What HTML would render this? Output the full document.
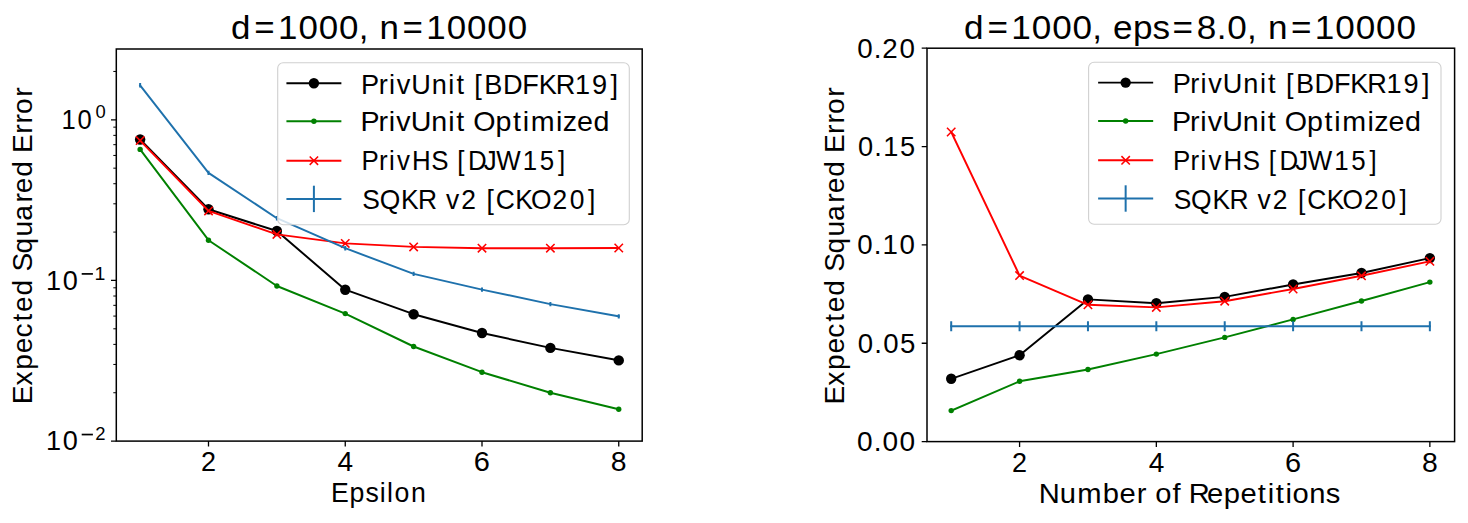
<!DOCTYPE html>
<html><head><meta charset="utf-8"><style>
html,body{margin:0;padding:0;background:#fff;width:1468px;height:523px;overflow:hidden}
svg{display:block}
text{font-family:"Liberation Sans",sans-serif;font-kerning:none}
</style></head><body>
<svg width="1468" height="523" viewBox="0 0 1468 523">
<rect width="1468" height="523" fill="#fff"/>
<polyline points="140.13,139.50 208.50,209.30 276.88,231.00 345.25,289.70 413.63,314.20 482.00,333.00 550.38,347.90 618.75,360.40" fill="none" stroke="#000000" stroke-width="1.95" stroke-linejoin="round" stroke-linecap="square"/><circle cx="140.13" cy="139.50" r="5.2" fill="#000000"/><circle cx="208.50" cy="209.30" r="5.2" fill="#000000"/><circle cx="276.88" cy="231.00" r="5.2" fill="#000000"/><circle cx="345.25" cy="289.70" r="5.2" fill="#000000"/><circle cx="413.63" cy="314.20" r="5.2" fill="#000000"/><circle cx="482.00" cy="333.00" r="5.2" fill="#000000"/><circle cx="550.38" cy="347.90" r="5.2" fill="#000000"/><circle cx="618.75" cy="360.40" r="5.2" fill="#000000"/><polyline points="140.13,149.40 208.50,240.20 276.88,286.00 345.25,313.60 413.63,346.50 482.00,372.20 550.38,392.80 618.75,409.20" fill="none" stroke="#008000" stroke-width="1.95" stroke-linejoin="round" stroke-linecap="square"/><circle cx="140.13" cy="149.40" r="2.7" fill="#008000"/><circle cx="208.50" cy="240.20" r="2.7" fill="#008000"/><circle cx="276.88" cy="286.00" r="2.7" fill="#008000"/><circle cx="345.25" cy="313.60" r="2.7" fill="#008000"/><circle cx="413.63" cy="346.50" r="2.7" fill="#008000"/><circle cx="482.00" cy="372.20" r="2.7" fill="#008000"/><circle cx="550.38" cy="392.80" r="2.7" fill="#008000"/><circle cx="618.75" cy="409.20" r="2.7" fill="#008000"/><polyline points="140.13,140.60 208.50,210.90 276.88,234.40 345.25,243.40 413.63,246.90 482.00,248.20 550.38,248.20 618.75,248.00" fill="none" stroke="#ff0000" stroke-width="1.95" stroke-linejoin="round" stroke-linecap="square"/><path d="M135.93,136.40L144.33,144.80M135.93,144.80L144.33,136.40M204.31,206.70L212.70,215.10M204.31,215.10L212.70,206.70M272.68,230.20L281.08,238.60M272.68,238.60L281.08,230.20M341.06,239.20L349.45,247.60M341.06,247.60L349.45,239.20M409.43,242.70L417.83,251.10M409.43,251.10L417.83,242.70M477.81,244.00L486.20,252.40M477.81,252.40L486.20,244.00M546.18,244.00L554.58,252.40M546.18,252.40L554.58,244.00M614.55,243.80L622.96,252.20M614.55,252.20L622.96,243.80" stroke="#ff0000" stroke-width="1.55" fill="none"/><polyline points="140.13,85.30 208.50,172.90 276.88,218.20 345.25,248.20 413.63,273.90 482.00,289.60 550.38,304.10 618.75,316.40" fill="none" stroke="#1e71ac" stroke-width="1.95" stroke-linejoin="round" stroke-linecap="square"/><path d="M140.13,83.10L140.13,87.50M208.50,170.70L208.50,175.10M276.88,216.00L276.88,220.40M345.25,246.00L345.25,250.40M413.63,271.70L413.63,276.10M482.00,287.40L482.00,291.80M550.38,301.90L550.38,306.30M618.75,314.20L618.75,318.60" stroke="#1e71ac" stroke-width="2.0" fill="none"/><rect x="277.7" y="62.7" width="351.59999999999997" height="162.10000000000002" rx="5.5" ry="5.5" fill="#ffffff" fill-opacity="0.8" stroke="#d0d0d0" stroke-width="1.1"/><polyline points="287.40,83.20 340.40,83.20" fill="none" stroke="#000000" stroke-width="1.95" stroke-linejoin="round" stroke-linecap="square"/><circle cx="313.90" cy="83.20" r="5.2" fill="#000000"/><polyline points="287.40,121.30 340.40,121.30" fill="none" stroke="#008000" stroke-width="1.95" stroke-linejoin="round" stroke-linecap="square"/><circle cx="313.90" cy="121.30" r="2.7" fill="#008000"/><polyline points="287.40,160.70 340.40,160.70" fill="none" stroke="#ff0000" stroke-width="1.95" stroke-linejoin="round" stroke-linecap="square"/><path d="M309.70,156.50L318.10,164.90M309.70,164.90L318.10,156.50" stroke="#ff0000" stroke-width="1.55" fill="none"/><polyline points="287.40,198.90 340.40,198.90" fill="none" stroke="#1e71ac" stroke-width="1.95" stroke-linejoin="round" stroke-linecap="square"/><path d="M313.90,185.70L313.90,212.10" stroke="#1e71ac" stroke-width="2.0" fill="none"/><rect x="116.3" y="49.0" width="525.90" height="392.10" fill="none" stroke="#000" stroke-width="1.5"/><path d="M208.50,441.10L208.50,446.40M345.25,441.10L345.25,446.40M482.00,441.10L482.00,446.40M618.75,441.10L618.75,446.40M111.00,119.80L116.30,119.80M111.00,280.45L116.30,280.45M111.00,441.10L116.30,441.10" stroke="#000" stroke-width="1.3" fill="none"/><path d="M113.30,392.74L116.30,392.74M113.30,364.45L116.30,364.45M113.30,344.38L116.30,344.38M113.30,328.81L116.30,328.81M113.30,316.09L116.30,316.09M113.30,305.33L116.30,305.33M113.30,296.02L116.30,296.02M113.30,287.80L116.30,287.80M113.30,232.09L116.30,232.09M113.30,203.80L116.30,203.80M113.30,183.73L116.30,183.73M113.30,168.16L116.30,168.16M113.30,155.44L116.30,155.44M113.30,144.68L116.30,144.68M113.30,135.37L116.30,135.37M113.30,127.15L116.30,127.15M113.30,71.44L116.30,71.44" stroke="#000" stroke-width="1.0" fill="none"/><polyline points="951.20,378.80 1019.58,355.30 1087.96,299.40 1156.34,303.30 1224.72,296.90 1293.10,284.50 1361.48,273.00 1429.86,258.10" fill="none" stroke="#000000" stroke-width="1.95" stroke-linejoin="round" stroke-linecap="square"/><circle cx="951.20" cy="378.80" r="5.2" fill="#000000"/><circle cx="1019.58" cy="355.30" r="5.2" fill="#000000"/><circle cx="1087.96" cy="299.40" r="5.2" fill="#000000"/><circle cx="1156.34" cy="303.30" r="5.2" fill="#000000"/><circle cx="1224.72" cy="296.90" r="5.2" fill="#000000"/><circle cx="1293.10" cy="284.50" r="5.2" fill="#000000"/><circle cx="1361.48" cy="273.00" r="5.2" fill="#000000"/><circle cx="1429.86" cy="258.10" r="5.2" fill="#000000"/><polyline points="951.20,410.60 1019.58,381.30 1087.96,369.50 1156.34,354.10 1224.72,337.40 1293.10,319.40 1361.48,301.00 1429.86,282.10" fill="none" stroke="#008000" stroke-width="1.95" stroke-linejoin="round" stroke-linecap="square"/><circle cx="951.20" cy="410.60" r="2.7" fill="#008000"/><circle cx="1019.58" cy="381.30" r="2.7" fill="#008000"/><circle cx="1087.96" cy="369.50" r="2.7" fill="#008000"/><circle cx="1156.34" cy="354.10" r="2.7" fill="#008000"/><circle cx="1224.72" cy="337.40" r="2.7" fill="#008000"/><circle cx="1293.10" cy="319.40" r="2.7" fill="#008000"/><circle cx="1361.48" cy="301.00" r="2.7" fill="#008000"/><circle cx="1429.86" cy="282.10" r="2.7" fill="#008000"/><polyline points="951.20,132.00 1019.58,275.60 1087.96,304.80 1156.34,307.40 1224.72,301.20 1293.10,289.00 1361.48,275.80 1429.86,261.30" fill="none" stroke="#ff0000" stroke-width="1.95" stroke-linejoin="round" stroke-linecap="square"/><path d="M947.00,127.80L955.40,136.20M947.00,136.20L955.40,127.80M1015.38,271.40L1023.78,279.80M1015.38,279.80L1023.78,271.40M1083.76,300.60L1092.16,309.00M1083.76,309.00L1092.16,300.60M1152.14,303.20L1160.54,311.60M1152.14,311.60L1160.54,303.20M1220.52,297.00L1228.92,305.40M1220.52,305.40L1228.92,297.00M1288.90,284.80L1297.30,293.20M1288.90,293.20L1297.30,284.80M1357.28,271.60L1365.68,280.00M1357.28,280.00L1365.68,271.60M1425.66,257.10L1434.06,265.50M1425.66,265.50L1434.06,257.10" stroke="#ff0000" stroke-width="1.55" fill="none"/><polyline points="951.20,326.30 1019.58,326.30 1087.96,326.30 1156.34,326.30 1224.72,326.30 1293.10,326.30 1361.48,326.30 1429.86,326.30" fill="none" stroke="#1e71ac" stroke-width="1.95" stroke-linejoin="round" stroke-linecap="square"/><path d="M951.20,321.30L951.20,331.30M1019.58,321.30L1019.58,331.30M1087.96,321.30L1087.96,331.30M1156.34,321.30L1156.34,331.30M1224.72,321.30L1224.72,331.30M1293.10,321.30L1293.10,331.30M1361.48,321.30L1361.48,331.30M1429.86,321.30L1429.86,331.30" stroke="#1e71ac" stroke-width="2.0" fill="none"/><rect x="1088.6" y="62.3" width="352.4000000000001" height="161.89999999999998" rx="5.5" ry="5.5" fill="#ffffff" fill-opacity="0.8" stroke="#d0d0d0" stroke-width="1.1"/><polyline points="1099.10,82.60 1152.20,82.60" fill="none" stroke="#000000" stroke-width="1.95" stroke-linejoin="round" stroke-linecap="square"/><circle cx="1125.65" cy="82.60" r="5.2" fill="#000000"/><polyline points="1099.10,121.00 1152.20,121.00" fill="none" stroke="#008000" stroke-width="1.95" stroke-linejoin="round" stroke-linecap="square"/><circle cx="1125.65" cy="121.00" r="2.7" fill="#008000"/><polyline points="1099.10,160.30 1152.20,160.30" fill="none" stroke="#ff0000" stroke-width="1.95" stroke-linejoin="round" stroke-linecap="square"/><path d="M1121.45,156.10L1129.85,164.50M1121.45,164.50L1129.85,156.10" stroke="#ff0000" stroke-width="1.55" fill="none"/><polyline points="1099.10,198.50 1152.20,198.50" fill="none" stroke="#1e71ac" stroke-width="1.95" stroke-linejoin="round" stroke-linecap="square"/><path d="M1125.65,185.30L1125.65,211.70" stroke="#1e71ac" stroke-width="2.0" fill="none"/><rect x="927.0" y="48.2" width="527.60" height="393.40" fill="none" stroke="#000" stroke-width="1.5"/><path d="M1019.58,441.60L1019.58,446.90M1156.34,441.60L1156.34,446.90M1293.10,441.60L1293.10,446.90M1429.86,441.60L1429.86,446.90M921.70,441.60L927.00,441.60M921.70,343.25L927.00,343.25M921.70,244.90L927.00,244.90M921.70,146.55L927.00,146.55M921.70,48.20L927.00,48.20" stroke="#000" stroke-width="1.3" fill="none"/>
<text transform="scale(1.0487,1)" x="220.34 242.43 265.10 284.62 303.96 323.30 342.13 351.90 362.00 383.85 406.53 426.05 445.39 464.73 484.07" y="39.40" font-size="33.29" fill="#000">d=1000, n=10000</text><text transform="scale(1.0553,1)" x="913.61 935.65 958.26 977.73 997.02 1016.32 1035.11 1044.86 1054.63 1073.70 1092.20 1111.19 1133.99 1153.08 1162.92 1181.71 1191.46 1201.52 1223.31 1245.92 1265.40 1284.69 1303.98 1323.27" y="39.20" font-size="33.29" fill="#000">d=1000, eps=8.0, n=10000</text><text transform="scale(0.9891,1)" x="203.21" y="471.10" font-size="27.33" fill="#000">2</text><text transform="scale(0.9891,1)" x="1023.24" y="471.60" font-size="27.33" fill="#000">2</text><text transform="scale(1.0263,1)" x="328.91" y="471.10" font-size="27.33" fill="#000">4</text><text transform="scale(1.0263,1)" x="1119.25" y="471.60" font-size="27.33" fill="#000">4</text><text transform="scale(1.0620,1)" x="446.17" y="471.10" font-size="27.33" fill="#000">6</text><text transform="scale(1.0620,1)" x="1209.90" y="471.60" font-size="27.33" fill="#000">6</text><text transform="scale(1.0372,1)" x="588.94" y="471.10" font-size="27.33" fill="#000">8</text><text transform="scale(1.0372,1)" x="1370.92" y="471.60" font-size="27.33" fill="#000">8</text><text transform="scale(0.9714,1)" x="340.76 359.83 376.38 390.92 398.49 406.05 423.10" y="501.80" font-size="27.47" fill="#000">Epsilon</text><text transform="scale(1.0617,1)" x="978.47 998.09 1014.65 1038.78 1054.41 1070.80 1080.09 1088.16 1104.42 1112.36 1119.57 1136.87 1152.70 1168.33 1184.71 1193.99 1201.57 1210.85 1217.46 1233.18 1248.61" y="503.10" font-size="27.47" fill="#000">Number of Repetitions</text><text transform="rotate(-90) scale(1.0345,1)" x="-390.73 -372.71 -357.51 -341.57 -326.21 -310.86 -301.59 -285.74 -269.88 -262.50 -244.99 -228.60 -213.51 -195.87 -186.74 -170.90 -155.04 -147.92 -129.41 -119.30 -110.26 -93.61" y="31.80" font-size="27.18">Expected Squared Error</text><text transform="rotate(-90) scale(1.0245,1)" x="-394.82 -376.62 -361.25 -345.14 -329.62 -314.10 -304.73 -288.72 -272.69 -265.22 -247.53 -230.96 -215.71 -197.88 -188.66 -172.64 -156.61 -149.42 -130.71 -120.49 -111.36 -94.53" y="844.40" font-size="27.47">Expected Squared Error</text><text transform="scale(1.0445,1)" x="820.58 836.46 844.88 861.08" y="451.10" font-size="26.89" fill="#000">0.00</text><text transform="scale(1.0263,1)" x="835.83 851.93 860.56 876.95" y="352.75" font-size="26.89" fill="#000">0.05</text><text transform="scale(1.0309,1)" x="831.48 847.52 855.96 872.51" y="254.40" font-size="26.89" fill="#000">0.10</text><text transform="scale(1.0121,1)" x="847.64 863.92 872.59 889.34" y="156.05" font-size="26.89" fill="#000">0.15</text><text transform="scale(1.0331,1)" x="829.68 845.70 853.91 870.63" y="57.70" font-size="26.89" fill="#000">0.20</text><text transform="scale(0.9319,1)" x="66.12 83.20" y="129.10" font-size="27.47" fill="#000">10</text><text transform="scale(0.9668,1)" x="98.76" y="118.30" font-size="19.04" fill="#000">0</text><text transform="scale(0.9867,1)" x="46.62 63.69" y="289.75" font-size="27.47" fill="#000">10</text><text transform="scale(1.0311,1)" x="91.77" y="279.75" font-size="18.90" fill="#000">1</text><rect x="81.7" y="273.05" width="11.2" height="1.7" fill="#000"/><text transform="scale(0.9867,1)" x="46.62 63.69" y="450.40" font-size="27.47" fill="#000">10</text><text transform="scale(0.9758,1)" x="97.53" y="440.40" font-size="18.90" fill="#000">2</text><rect x="81.7" y="433.70" width="11.2" height="1.7" fill="#000"/><text transform="scale(0.9878,1)" x="365.59 383.44 393.71 401.59 416.36 437.09 453.91 462.08 471.25 480.22 490.36 509.29 528.84 545.31 562.55 582.17 599.35 618.11" y="93.80" font-size="27.47" fill="#000">PrivUnit [BDFKR19]</text><text transform="scale(0.9878,1)" x="1187.14 1204.99 1215.27 1223.15 1237.92 1258.65 1275.46 1283.64 1292.80 1301.78 1311.91 1330.85 1350.40 1366.87 1384.11 1403.73 1420.91 1439.67" y="93.20" font-size="27.47" fill="#000">PrivUnit [BDFKR19]</text><text transform="scale(1.0431,1)" x="345.68 362.81 372.66 379.92 393.74 413.49 429.66 437.35 446.24 453.70 475.02 491.72 501.10 508.73 533.03 539.56 553.25 568.99" y="131.30" font-size="27.47" fill="#000">PrivUnit Optimized</text><text transform="scale(1.0431,1)" x="1123.63 1140.76 1150.61 1157.87 1171.70 1191.44 1207.61 1215.31 1224.19 1231.66 1252.98 1269.67 1279.06 1286.69 1310.98 1317.52 1331.21 1346.95" y="130.70" font-size="27.47" fill="#000">PrivUnit Optimized</text><text transform="scale(0.9425,1)" x="383.61 402.11 412.77 421.21 437.12 457.60 475.57 485.20 496.58 513.27 526.59 554.72 572.69 592.14" y="170.20" font-size="27.47" fill="#000">PrivHS [DJW15]</text><text transform="scale(0.9425,1)" x="1244.62 1263.12 1273.78 1282.23 1298.13 1318.61 1336.58 1346.21 1357.59 1374.28 1387.60 1415.74 1433.70 1453.16" y="169.60" font-size="27.47" fill="#000">PrivHS [DJW15]</text><text transform="scale(0.9619,1)" x="376.67 394.67 416.81 434.52 453.58 463.68 479.52 496.33 505.67 515.49 535.79 552.03 574.38 592.34 611.39" y="209.20" font-size="27.47" fill="#000">SQKR v2 [CKO20]</text><text transform="scale(0.9619,1)" x="1220.31 1238.31 1260.45 1278.16 1297.22 1307.32 1323.16 1339.97 1349.31 1359.13 1379.44 1395.68 1418.02 1435.98 1455.03" y="208.60" font-size="27.47" fill="#000">SQKR v2 [CKO20]</text>
</svg>
</body></html>
